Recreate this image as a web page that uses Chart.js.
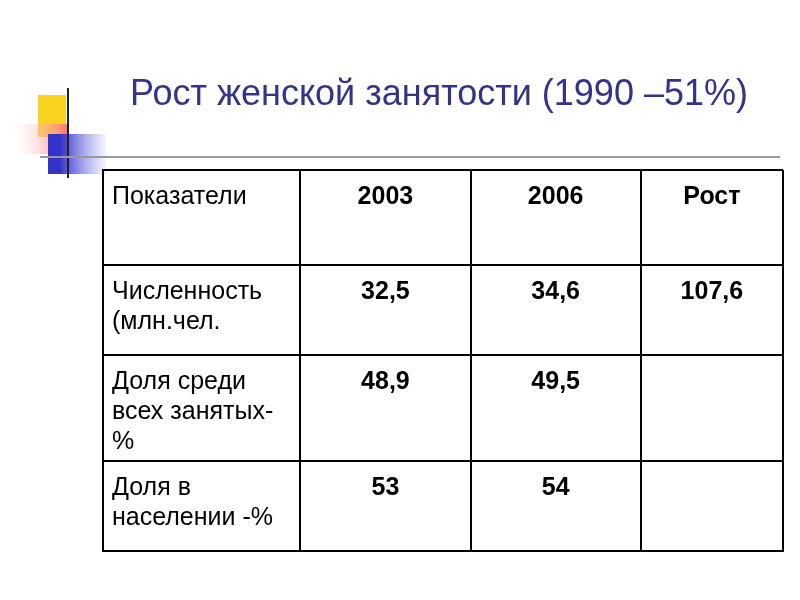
<!DOCTYPE html>
<html><head><meta charset="utf-8">
<script src="https://cdn.jsdelivr.net/npm/chart.js@4"></script>
<style>html,body{margin:0;background:#fff}#c{display:block}</style>
</head><body><canvas id="c" width="800" height="600"></canvas>
<script>
const title = "Рост женской занятости (1990 –51%)";
const headers = ["Показатели", "2003", "2006", "Рост"];
const rowLabels = [["Численность","(млн.чел."],["Доля среди","всех занятых-","%"],["Доля в","населении -%"]];
const values2003 = ["32,5","48,9","53"];
const values2006 = ["34,6","49,5","54"];
const growth = ["107,6","",""];
const colEdges = [0,197,367,537,679];
const rowEdges = [0,95,185,290,380];

const F='"Liberation Sans", Arial';
const tablePlugin = {
  id:'table',
  beforeDraw(chart){
    const c=chart.ctx;
    c.save();
    c.fillStyle='#f7d21e'; c.fillRect(38,95,28,42);
    const g=c.createLinearGradient(10,0,70,0); g.addColorStop(0,'rgba(255,255,255,0)'); g.addColorStop(1,'#ff6b6b');
    c.fillStyle=g; c.fillRect(10,124,58,30);
    const b=c.createLinearGradient(60,0,105,0); b.addColorStop(0,'#3333cc'); b.addColorStop(1,'rgba(120,120,230,0.1)');
    c.fillStyle=b; c.fillRect(48,134,58,40);
    c.strokeStyle='#222'; c.lineWidth=2;
    c.beginPath(); c.moveTo(68,88); c.lineTo(68,178); c.stroke();
    c.strokeStyle='#999'; c.lineWidth=2;
    c.beginPath(); c.moveTo(40,157); c.lineTo(780,157); c.stroke();
    c.fillStyle='#33338a'; c.font='36px '+F; c.textAlign='center'; c.textBaseline='middle';
    c.fillText(title,439,95);
    c.restore();
  },
  afterDraw(chart){
    const c=chart.ctx, x=chart.scales.x, y=chart.scales.y;
    c.save(); c.fillStyle='#000'; c.textBaseline='middle';
    const cx=i=>(x.getPixelForValue(colEdges[i])+x.getPixelForValue(colEdges[i+1]))/2;
    const ty=r=>y.getPixelForValue(rowEdges[r])+27;
    headers.forEach((h,i)=>{
      c.font=(i===0?'':'bold ')+'25px '+F;
      if(i===0){c.textAlign='left';c.fillText(h,x.getPixelForValue(0)+9,ty(0));}
      else{c.textAlign='center';c.fillText(h,cx(i),ty(0));}
    });
    rowLabels.forEach((lines,r)=>{
      c.font='25px '+F; c.textAlign='left';
      lines.forEach((l,k)=>c.fillText(l,x.getPixelForValue(0)+9,ty(r+1)+k*30));
      c.font='bold 25px '+F; c.textAlign='center';
      [values2003[r],values2006[r],growth[r]].forEach((v,i)=>c.fillText(v,cx(i+1),ty(r+1)));
    });
    c.restore();
  }
};
const grid={color:'#000',lineWidth:2,drawTicks:false};
new Chart(document.getElementById('c'),{
  type:'scatter',
  data:{datasets:[{data:[]}]},
  options:{
    responsive:false,animation:false,
    layout:{padding:{left:103,right:17,top:170,bottom:49}},
    plugins:{legend:{display:false},tooltip:{enabled:false}},
    scales:{
      x:{type:'linear',min:0,max:679,grid,border:{color:'#000',width:2},
        afterBuildTicks:s=>{s.ticks=colEdges.map(v=>({value:v}));},ticks:{display:false}},
      y:{type:'linear',min:0,max:380,reverse:true,grid,border:{color:'#000',width:2},
        afterBuildTicks:s=>{s.ticks=rowEdges.map(v=>({value:v}));},ticks:{display:false}}
    }
  },
  plugins:[tablePlugin]
});
</script></body></html>
